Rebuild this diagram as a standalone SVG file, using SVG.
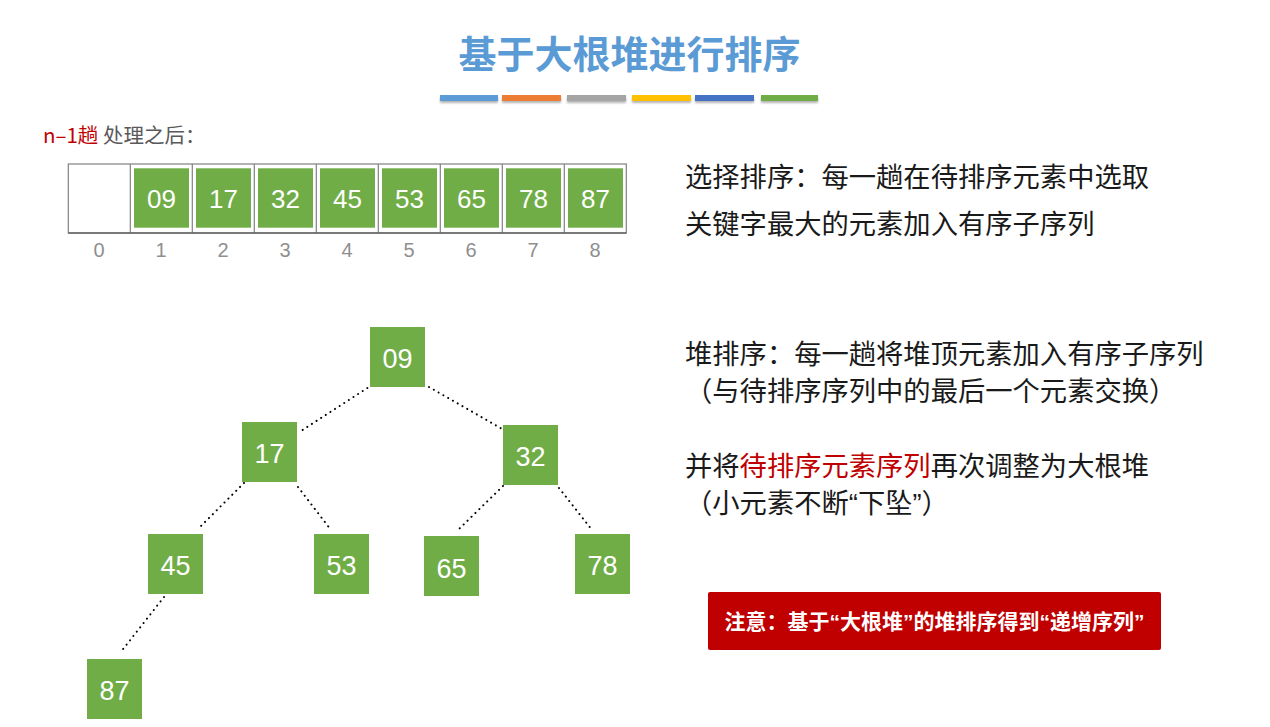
<svg xmlns="http://www.w3.org/2000/svg" width="1270" height="727" viewBox="0 0 1270 727">
<defs>
<style>
.cjk{font-family:"Noto Sans CJK SC","Liberation Sans",sans-serif;}
.title{font-family:"Noto Sans CJK SC",sans-serif;font-size:38px;font-weight:bold;fill:#5B9BD5;}
.body{font-family:"Noto Sans CJK SC",sans-serif;font-size:27.3px;fill:#1a1a1a;}
.q{font-family:"Liberation Sans",Arial,sans-serif;}
.red{fill:#C00000;}
.cell{fill:#70AD47;}
.num{font-family:"Liberation Sans",Arial,sans-serif;font-size:26px;fill:#ffffff;text-anchor:middle;}
.tnum{font-family:"Liberation Sans",Arial,sans-serif;font-size:27px;fill:#ffffff;text-anchor:middle;}
.idx{font-family:"Liberation Sans",Arial,sans-serif;font-size:20px;fill:#8f8f8f;text-anchor:middle;}
.edge{stroke:#000;stroke-width:2;stroke-linecap:round;stroke-dasharray:0.1 5.4;fill:none;}
</style>
<filter id="sh" x="-10%" y="-50%" width="120%" height="250%">
<feDropShadow dx="0" dy="2" stdDeviation="1.2" flood-color="#000" flood-opacity="0.3"/>
</filter>
</defs>
<rect width="1270" height="727" fill="#ffffff"/>

<g id="title">
<text class="title" x="629.5" y="68" text-anchor="middle">基于大根堆进行排序</text>
<g filter="url(#sh)">
<rect x="440" y="95" width="58" height="6" fill="#5B9BD5"/>
<rect x="502" y="95" width="59" height="6" fill="#ED7D31"/>
<rect x="567" y="95" width="59" height="6" fill="#A5A5A5"/>
<rect x="632" y="95" width="59" height="6" fill="#FFC000"/>
<rect x="695" y="95" width="59" height="6" fill="#4472C4"/>
<rect x="761" y="95" width="57" height="6" fill="#70AD47"/>
</g>
</g>

<g id="subtitle">
<text class="cjk" x="43" y="143" font-size="20.5"><tspan fill="#C00000">n–1趟</tspan><tspan fill="#595959"> 处理之后：</tspan></text>
</g>

<g id="array">
<rect x="68.3" y="164" width="558" height="69" fill="#fff" stroke="#808080" stroke-width="1.2"/>
<g stroke="#808080" stroke-width="1.2">
<line x1="130.3" y1="164" x2="130.3" y2="233"/>
<line x1="192.3" y1="164" x2="192.3" y2="233"/>
<line x1="254.3" y1="164" x2="254.3" y2="233"/>
<line x1="316.3" y1="164" x2="316.3" y2="233"/>
<line x1="378.3" y1="164" x2="378.3" y2="233"/>
<line x1="440.3" y1="164" x2="440.3" y2="233"/>
<line x1="502.3" y1="164" x2="502.3" y2="233"/>
<line x1="564.3" y1="164" x2="564.3" y2="233"/>
</g>
<line x1="68.3" y1="233" x2="626.3" y2="233" stroke="#666" stroke-width="1.5"/>
<rect class="cell" x="134" y="168.3" width="55" height="59.4"/>
<rect class="cell" x="196" y="168.3" width="55" height="59.4"/>
<rect class="cell" x="258" y="168.3" width="55" height="59.4"/>
<rect class="cell" x="320" y="168.3" width="55" height="59.4"/>
<rect class="cell" x="382" y="168.3" width="55" height="59.4"/>
<rect class="cell" x="444" y="168.3" width="55" height="59.4"/>
<rect class="cell" x="506" y="168.3" width="55" height="59.4"/>
<rect class="cell" x="568" y="168.3" width="55" height="59.4"/>
<text class="num" x="161.5" y="207.5">09</text>
<text class="num" x="223.5" y="207.5">17</text>
<text class="num" x="285.5" y="207.5">32</text>
<text class="num" x="347.5" y="207.5">45</text>
<text class="num" x="409.5" y="207.5">53</text>
<text class="num" x="471.5" y="207.5">65</text>
<text class="num" x="533.5" y="207.5">78</text>
<text class="num" x="595.5" y="207.5">87</text>
<text class="idx" x="99" y="257">0</text>
<text class="idx" x="161" y="257">1</text>
<text class="idx" x="223" y="257">2</text>
<text class="idx" x="285" y="257">3</text>
<text class="idx" x="347" y="257">4</text>
<text class="idx" x="409" y="257">5</text>
<text class="idx" x="471" y="257">6</text>
<text class="idx" x="533" y="257">7</text>
<text class="idx" x="595" y="257">8</text>
</g>

<g id="connectors">
<line class="edge" x1="372" y1="385" x2="301" y2="431"/>
<line class="edge" x1="429" y1="387" x2="504" y2="430"/>
<line class="edge" x1="244" y1="483" x2="198" y2="529"/>
<line class="edge" x1="298" y1="487" x2="331" y2="530"/>
<line class="edge" x1="503" y1="486" x2="457" y2="531"/>
<line class="edge" x1="559" y1="488" x2="592" y2="530"/>
<line class="edge" x1="164" y1="597" x2="120" y2="653"/>
</g>

<g id="n09"><rect class="cell" x="370" y="327" width="55" height="60"/><text class="tnum" x="397.5" y="368">09</text></g>
<g id="n17"><rect class="cell" x="242" y="422" width="55" height="60"/><text class="tnum" x="269.5" y="463">17</text></g>
<g id="n32"><rect class="cell" x="503" y="425" width="55" height="60"/><text class="tnum" x="530.5" y="466">32</text></g>
<g id="n45"><rect class="cell" x="148" y="534" width="55" height="60"/><text class="tnum" x="175.5" y="575">45</text></g>
<g id="n53"><rect class="cell" x="314" y="534" width="55" height="60"/><text class="tnum" x="341.5" y="575">53</text></g>
<g id="n65"><rect class="cell" x="424" y="536" width="55" height="60"/><text class="tnum" x="451.5" y="578">65</text></g>
<g id="n78"><rect class="cell" x="575" y="534" width="55" height="60"/><text class="tnum" x="602.5" y="575">78</text></g>
<g id="n87"><rect class="cell" x="87" y="659" width="55" height="60"/><text class="tnum" x="114.5" y="700">87</text></g>

<g id="notes">
<text class="body" x="685" y="187">选择排序：每一趟在待排序元素中选取</text>
<text class="body" x="685" y="234">关键字最大的元素加入有序子序列</text>
<text class="body" x="685" y="364">堆排序：每一趟将堆顶元素加入有序子序列</text>
<text class="body" x="685" y="401">（与待排序序列中的最后一个元素交换）</text>
<text class="body" x="685" y="476">并将<tspan class="red">待排序元素序列</tspan>再次调整为大根堆</text>
<text class="body" x="685" y="513">（小元素不断<tspan class="q">“</tspan>下坠<tspan class="q">”</tspan>）</text>
</g>

<g id="warning">
<rect x="708" y="592" width="453" height="58" rx="2" fill="#C00000"/>
<text class="cjk" x="934.5" y="628.5" font-size="21" font-weight="bold" fill="#ffffff" text-anchor="middle">注意：基于<tspan class="q">“</tspan>大根堆<tspan class="q">”</tspan>的堆排序得到<tspan class="q">“</tspan>递增序列<tspan class="q">”</tspan></text>
</g>
</svg>
